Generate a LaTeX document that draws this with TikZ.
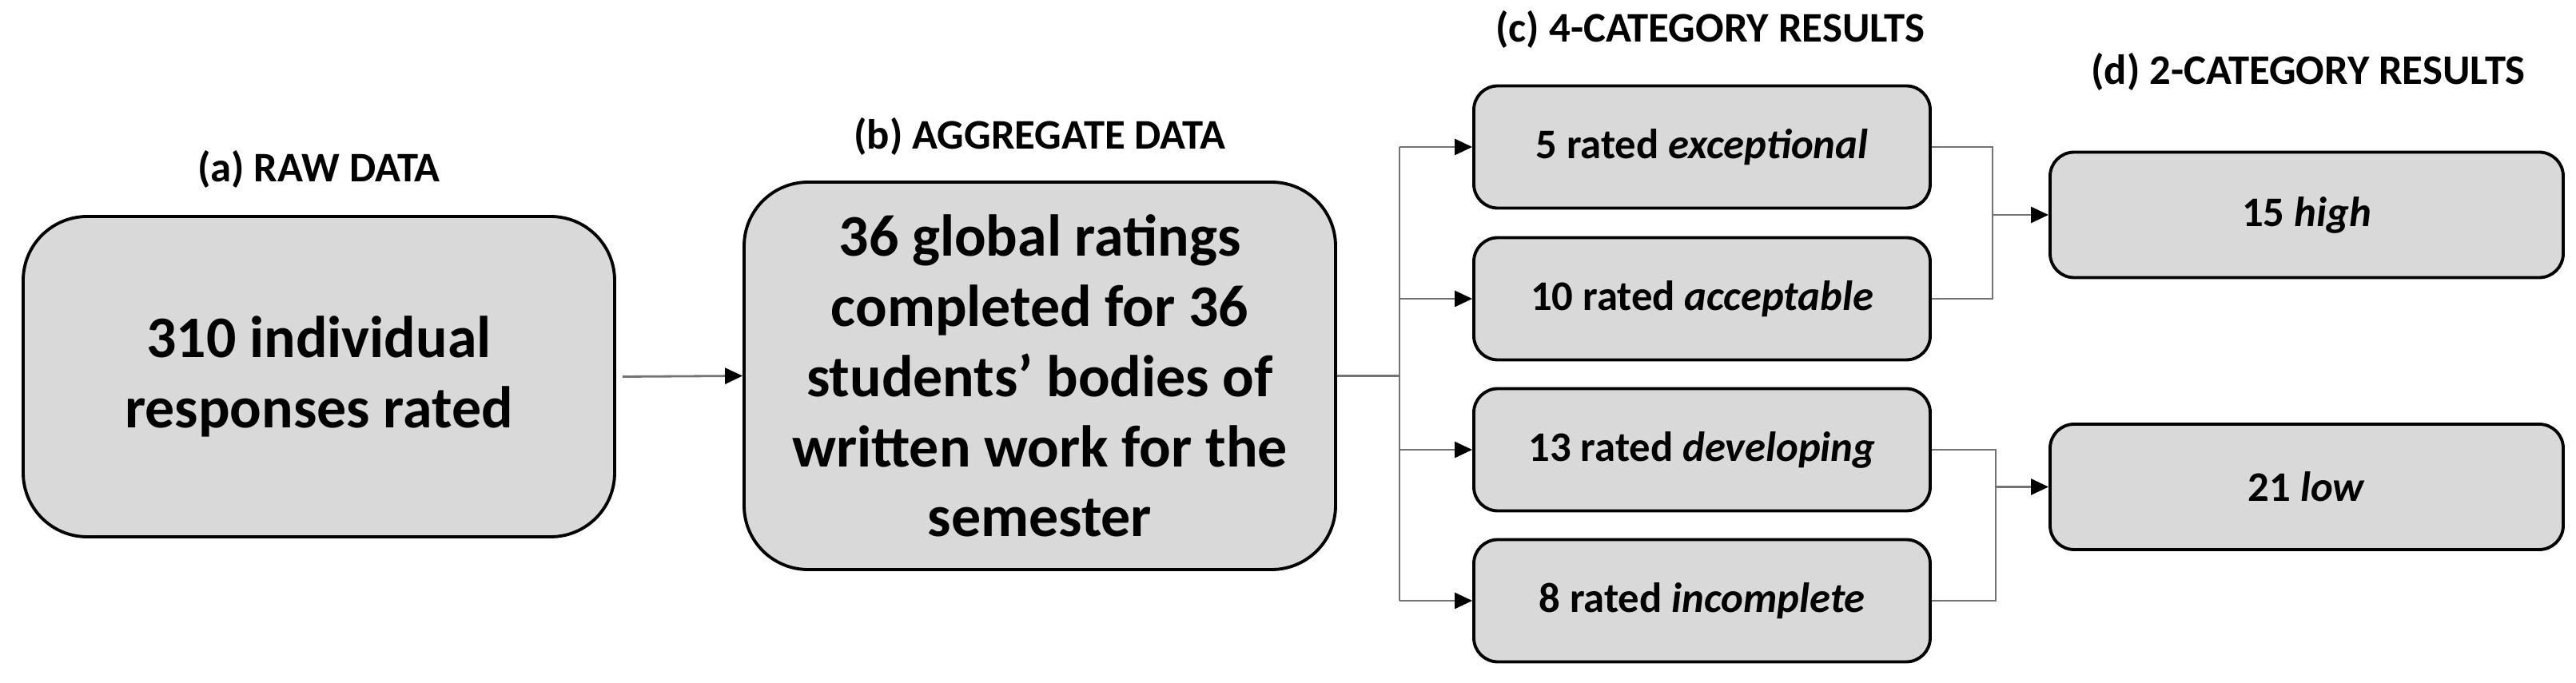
\documentclass[tikz,border=0pt]{standalone}
\usepackage{fontspec}
\setmainfont{Carlito}
\usetikzlibrary{arrows.meta}

\begin{document}
\begin{tikzpicture}[
    caixa/.style={draw=black, fill=black!15, line width=1.1pt, align=center},
    grande/.style={caixa, minimum width=7.4cm, rounded corners=0.8cm, font=\fontsize{21}{25}\selectfont\bfseries},
    pequena/.style={caixa, rounded corners=0.3cm, font=\fontsize{15}{18}\selectfont\bfseries},
    rotulo/.style={font=\fontsize{15}{18}\selectfont\bfseries},
    ligacao/.style={draw=black!55, line width=0.8pt},
    seta/.style={ligacao, -{Triangle[color=black, length=0.22cm, width=0.2cm]}}
  ]
    \useasboundingbox (0,0) rectangle (32.23,8.54);

    % Caixas grandes
    \node[grande, minimum height=4.01cm] (a) at (3.99,3.825) {310 individual\\responses rated};
    \node[grande, minimum height=4.85cm] (b) at (13.01,3.835) {36 global ratings\\completed for 36\\students' bodies of\\written work for the\\semester};

    % Resultados
    \node[pequena, minimum width=5.71cm, minimum height=1.53cm] (c1) at (21.295,6.70) {5 rated \textit{exceptional}};
    \node[pequena, minimum width=5.71cm, minimum height=1.53cm] (c2) at (21.295,4.80) {10 rated \textit{acceptable}};
    \node[pequena, minimum width=5.71cm, minimum height=1.53cm] (c3) at (21.295,2.91) {13 rated \textit{developing}};
    \node[pequena, minimum width=5.71cm, minimum height=1.53cm] (c4) at (21.295,1.02) {8 rated \textit{incomplete}};
    \node[pequena, minimum width=6.42cm, minimum height=1.57cm] (d1) at (28.86,5.85) {15 \textit{high}};
    \node[pequena, minimum width=6.42cm, minimum height=1.57cm] (d2) at (28.86,2.445) {21 \textit{low}};

    % Titulos
    \node[rotulo] (ta) at (3.99,6.42) {(a) RAW DATA};
    \node[rotulo] (tb) at (13.01,6.83) {(b) AGGREGATE DATA};
    \node[rotulo] (tc) at (21.40,8.17) {(c) 4-CATEGORY RESULTS};
    \node[rotulo] (td) at (28.88,7.64) {(d) 2-CATEGORY RESULTS};

    % Ligacoes
    \draw[seta] ([xshift=0.08cm]a.east) -- (b.west);
    \coordinate (garfo) at (17.51,3.835);
    \draw[ligacao] (b.east) -- (garfo);
    \draw[ligacao] (garfo |- c1.west) -- (garfo |- c4.west);
    \foreach \c in {c1,c2,c3,c4}
        \draw[seta] (garfo |- \c.west) -- (\c.west);

    \coordinate (jalto) at (24.93,5.85);
    \draw[ligacao] (c1.east) -| (jalto) |- (c2.east);
    \draw[seta] (jalto) -- (d1.west);
    \coordinate (jbaixo) at (24.97,2.445);
    \draw[ligacao] (c3.east) -| (jbaixo) |- (c4.east);
    \draw[seta] (jbaixo) -- (d2.west);
\end{tikzpicture}
\end{document}
